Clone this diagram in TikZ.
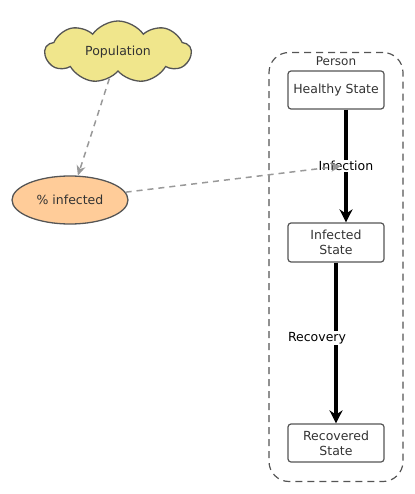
\documentclass[tikz,border=0pt]{standalone}
\usepackage{fontspec}
\setmainfont{DejaVu Sans}
\usetikzlibrary{shapes.symbols,shapes.geometric,arrows.meta}
\definecolor{cloudfill}{HTML}{F0E68C}
\definecolor{peach}{HTML}{FFCC99}
\definecolor{edgegray}{HTML}{555555}
\definecolor{dashgray}{HTML}{999999}
\tikzset{
  txt/.style={font=\fontsize{12.5}{15}\selectfont, text=black!80},
  statebox/.style={txt, draw=edgegray, line width=1.2pt, rounded corners=3pt, fill=white, minimum width=96pt, minimum height=38pt, align=center, inner sep=1pt},
  flow/.style={line width=3.5pt, -{Stealth[length=13pt,width=13pt]}},
  influence/.style={draw=dashgray, dashed, dash pattern=on 6pt off 5pt, line width=1.5pt, -{Stealth[length=10pt,width=9pt,inset=3pt]}},
  lbl/.style={fill=white, inner sep=1pt, font=\fontsize{12.5}{15}\selectfont, text=black}
}
\begin{document}
\begin{tikzpicture}[x=1pt,y=-1pt]
\useasboundingbox (0,0) rectangle (414,494);
% container
\node[draw=edgegray, dashed, dash pattern=on 7pt off 5pt, line width=1.2pt, rounded corners=20pt, minimum width=134pt, minimum height=429pt, inner sep=0pt] (person) at (336,267) {};
\node[txt, font=\fontsize{12}{14}\selectfont] (personlbl) at (336,61) {Person};
% cloud
\node[cloud, cloud puffs=9, cloud puff arc=110, aspect=2.4, draw=edgegray, line width=1.3pt, fill=cloudfill, minimum width=146pt, minimum height=62pt, inner sep=0pt, txt] (pop) at (118,52) {Population};
% ellipse
\node[ellipse, draw=edgegray, line width=1.3pt, fill=peach, minimum width=116pt, minimum height=48pt, inner sep=0pt, txt] (pct) at (70,200) {\% infected};
% states
\node[statebox] (healthy) at (336,90) {Healthy State};
\node[statebox, minimum height=39pt] (infected) at (336,242.5) {Infected\\State};
\node[statebox] (recovered) at (336,443) {Recovered\\State};
% flows
\draw[flow] ([xshift=10pt]healthy.south) -- node[lbl] (infl) {Infection} ([xshift=10pt]infected.north);
\draw[flow] (infected.south) -- node[lbl, pos=0.47, xshift=-19pt] (recl) {Recovery} (recovered.north);
% influences
\coordinate (flowmid) at ([xshift=-5pt]infl.center);
\draw[influence] (pop) -- (pct);
\draw[influence] (pct.8) -- (flowmid);
\end{tikzpicture}
\end{document}
